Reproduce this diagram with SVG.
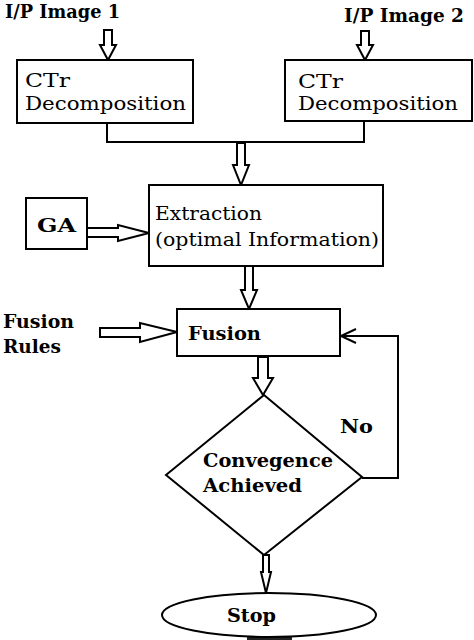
<svg xmlns="http://www.w3.org/2000/svg" width="474" height="640" viewBox="0 0 474 640">
<style>
.box{fill:#fff;stroke:#000;stroke-width:2}
.ln{fill:none;stroke:#000;stroke-width:2}
.ha{fill:#fff;stroke:#000;stroke-width:2;stroke-linejoin:miter}
text{font-family:"DejaVu Serif","Liberation Serif",serif;fill:#000;font-size:19px}
.b{font-weight:bold}
</style>
<rect width="474" height="640" fill="#fff"/>
<g id="connectors">
<path class="ha" d="M104,30 H112 V45 H116 L108,60 L100,45 H104 Z"/>
<path class="ha" d="M361,31 H369 V45 H373 L365,60 L357,45 H361 Z"/>
<path class="ln" d="M107,123 V142 H364 V121"/>
<path class="ha" d="M237,143 H245 V165 H249 L241,185 L233,165 H237 Z"/>
<path class="ha" d="M87,228 H118 V225 L149,233 L118,241 V237 H87 Z"/>
<path class="ha" d="M245,266 H253 V290 H257 L249,309 L241,290 H245 Z"/>
<path class="ha" d="M100,328 H140 V323 L177,332 L140,342 V337 H100 Z"/>
<path class="ha" d="M258,357 H268 V378 H273 L263,395 L253,378 H258 Z"/>
<path class="ha" d="M263,555 H269 V572 H271 L266,593 L261,572 H263 Z"/>
<path class="ln" d="M362,478 H398 V336 H341"/>
<path class="ln" d="M356,329 L341,336 L356,343"/>
<rect x="247" y="636" width="45" height="4" fill="#222"/>
</g>
<g id="input1"><text x="5" y="18" class="b" textLength="115" lengthAdjust="spacingAndGlyphs">I/P Image 1</text></g>
<g id="input2"><text x="344" y="22" class="b" textLength="120" lengthAdjust="spacingAndGlyphs">I/P Image 2</text></g>
<g id="ctr1">
<rect class="box" x="17" y="60" width="176" height="63"/>
<text x="25" y="87" textLength="45" lengthAdjust="spacingAndGlyphs">CTr</text>
<text x="25" y="110" textLength="161" lengthAdjust="spacingAndGlyphs">Decomposition</text>
</g>
<g id="ctr2">
<rect class="box" x="285" y="60" width="187" height="61"/>
<text x="298" y="88" textLength="45" lengthAdjust="spacingAndGlyphs">CTr</text>
<text x="298" y="110" textLength="160" lengthAdjust="spacingAndGlyphs">Decomposition</text>
</g>
<g id="ga">
<rect class="box" x="26" y="198" width="61" height="51"/>
<text x="37" y="232" class="b" textLength="39" lengthAdjust="spacingAndGlyphs">GA</text>
</g>
<g id="extraction">
<rect class="box" x="149" y="185" width="234" height="81"/>
<text x="155" y="220" textLength="107" lengthAdjust="spacingAndGlyphs">Extraction</text>
<text x="155" y="246" textLength="224" lengthAdjust="spacingAndGlyphs">(optimal Information)</text>
</g>
<g id="fusionrules">
<text x="3" y="328" class="b" textLength="71" lengthAdjust="spacingAndGlyphs">Fusion</text>
<text x="3" y="353" class="b" textLength="58" lengthAdjust="spacingAndGlyphs">Rules</text>
</g>
<g id="fusion">
<rect class="box" x="177" y="309" width="163" height="47"/>
<text x="188" y="340" class="b" textLength="73" lengthAdjust="spacingAndGlyphs">Fusion</text>
</g>
<g id="decision">
<path class="box" d="M264,395 L362,477 L264,555 L166,475 Z"/>
<text x="203" y="467" class="b" textLength="130" lengthAdjust="spacingAndGlyphs">Convegence</text>
<text x="203" y="492" class="b" textLength="99" lengthAdjust="spacingAndGlyphs">Achieved</text>
</g>
<g id="nolabel"><text x="340" y="433" class="b" textLength="33" lengthAdjust="spacingAndGlyphs">No</text></g>
<g id="stop">
<ellipse class="box" cx="269" cy="615" rx="107" ry="22"/>
<text x="227" y="622" class="b" textLength="49" lengthAdjust="spacingAndGlyphs">Stop</text>
</g>
</svg>
